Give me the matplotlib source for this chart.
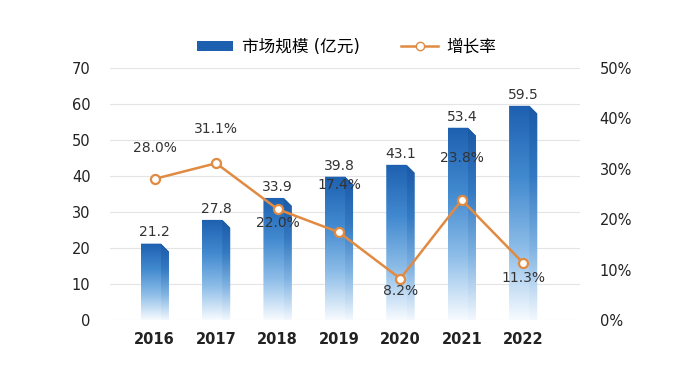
import numpy as np
import matplotlib
matplotlib.use("Agg")
import matplotlib.pyplot as plt
from matplotlib.colors import LinearSegmentedColormap
from matplotlib.patches import Polygon, Patch
from matplotlib.lines import Line2D
from matplotlib.ticker import FuncFormatter

plt.rcParams['font.family'] = ['DejaVu Sans', 'Noto Sans CJK SC']

years = ["2016", "2017", "2018", "2019", "2020", "2021", "2022"]
market = [21.2, 27.8, 33.9, 39.8, 43.1, 53.4, 59.5]
growth = [28.0, 31.1, 22.0, 17.4, 8.2, 23.8, 11.3]
# label offsets (points) for the growth labels: above (+) or below (-)
growth_dy = [22, 25, -10, 34, -9, 30, -11]

BLUE = "#1d60b0"
ORANGE = "#e08a42"

fig = plt.figure(figsize=(7, 3.8), dpi=100)
ax = fig.add_axes([0.157, 0.158, 0.672, 0.663])
ax2 = ax.twinx()

x = np.arange(len(years))
width = 0.46
cut_x = 0.13
cut_y = 2.2
side_w = 0.13

main_cmap = LinearSegmentedColormap.from_list(
    "bar", ["#f7fbff", "#8dbde8", "#4189cf", BLUE])
side_cmap = LinearSegmentedColormap.from_list(
    "side", ["#f2f8fe", "#80b3e2", "#3479c2", "#1a58a6"])
grad = np.linspace(0, 1, 256).reshape(-1, 1)

bars = ax.bar(x, market, width=width, color="none", edgecolor="none")
for b, h in zip(bars, market):
    x0 = b.get_x()
    x1 = x0 + b.get_width()
    poly = Polygon([(x0, 0), (x0, h), (x1 - cut_x, h), (x1, h - cut_y), (x1, 0)],
                   closed=True, facecolor="none", edgecolor="none")
    ax.add_patch(poly)
    im = ax.imshow(grad, cmap=main_cmap, origin="lower", aspect="auto",
                   extent=[x0, x1, 0, h], zorder=2)
    im.set_clip_path(poly)
    side = Polygon([(x1 - side_w, 0), (x1 - side_w, h), (x1 - cut_x, h),
                    (x1, h - cut_y), (x1, 0)],
                   closed=True, facecolor="none", edgecolor="none")
    ax.add_patch(side)
    im2 = ax.imshow(grad, cmap=side_cmap, origin="lower", aspect="auto",
                    extent=[x1 - side_w, x1, 0, h], zorder=2)
    im2.set_clip_path(side)
    ax.annotate(f"{h:.1f}", (b.get_x() + b.get_width() / 2, h),
                xytext=(0, 3), textcoords="offset points",
                ha="center", va="bottom", fontsize=10, color="#333333")

ax.set_xlim(-0.73, 6.93)
ax.set_ylim(0, 70)
ax.set_yticks(range(0, 71, 10))
ax.set_xticks(x)
ax.set_xticklabels(years, fontweight="bold", fontsize=10.5, color="#222222")
ax.tick_params(axis="y", labelsize=10.5, colors="#222222", pad=14)
ax.tick_params(length=0)
ax.tick_params(axis="x", pad=9)
ax.grid(axis="y", color="#e4e4e4", linewidth=0.8)
ax.set_axisbelow(True)
for s in ax.spines.values():
    s.set_visible(False)

ax2.plot(x, growth, color=ORANGE, linewidth=1.8, marker="o", markersize=6.5,
         markerfacecolor="white", markeredgecolor=ORANGE, markeredgewidth=1.6,
         zorder=5)
for xi, g, dy in zip(x, growth, growth_dy):
    ax2.annotate(f"{g:.1f}%", (xi, g), xytext=(0, dy), textcoords="offset points",
                 ha="center", va="center", fontsize=10, color="#333333")
ax2.set_ylim(0, 50)
ax2.set_yticks(range(0, 51, 10))
ax2.yaxis.set_major_formatter(FuncFormatter(lambda v, p: f"{v:.0f}%"))
ax2.tick_params(axis="y", length=0, labelsize=10.5, colors="#222222", pad=14)
for s in ax2.spines.values():
    s.set_visible(False)

handles = [Patch(facecolor=BLUE, edgecolor="none"),
           Line2D([0], [0], color=ORANGE, linewidth=1.8, marker="o",
                  markersize=6, markerfacecolor="white", markeredgecolor=ORANGE)]
fig.legend(handles, ["市场规模 (亿元)", "增长率"], loc="center",
           bbox_to_anchor=(0.495, 0.877), ncol=2, frameon=False,
           fontsize=12, handlelength=2.2, handleheight=0.6, columnspacing=2.5,
           handletextpad=0.5)

fig.savefig("out.png", dpi=100)
